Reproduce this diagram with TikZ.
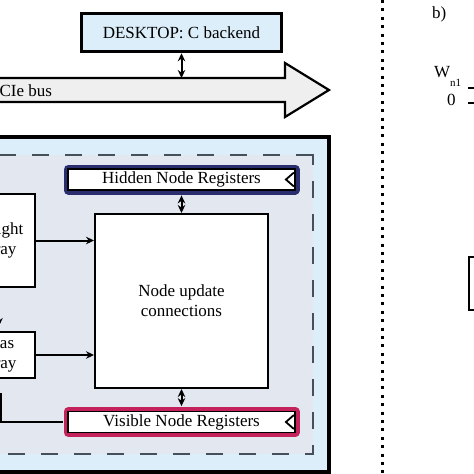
\documentclass[tikz,border=0pt]{standalone}
\usepackage{fontspec}
\setmainfont{Liberation Serif}
\usetikzlibrary{arrows.meta}
\definecolor{deskblue}{HTML}{DCEEFA}
\definecolor{innergray}{HTML}{E3E8F0}
\definecolor{busgray}{HTML}{EFEFEF}
\definecolor{hidnavy}{HTML}{2B2E6E}
\definecolor{viscrimson}{HTML}{C4225A}
\definecolor{dashgray}{HTML}{46505A}

\begin{document}
\begin{tikzpicture}[x=1pt,y=-1pt,>={Stealth[length=8pt,width=7.5pt]},
    font=\fontsize{17}{20}\selectfont,
    box/.style={rectangle,draw,line width=2pt,fill=white,align=center,inner sep=0pt},
    reg/.style={box,line width=1.8pt,minimum width=227pt,minimum height=21pt,
                preaction={draw=#1,line width=9pt,line join=round}},
    link/.style={line width=2pt}]
  \useasboundingbox (0,0) rectangle (474,474);
  \clip (0,0) rectangle (474,474);
  \draw[line width=4.5pt,fill=deskblue] (-20,137) rectangle (329,472);
  \fill[innergray] (-20,155) rectangle (313,454);
  \draw[dashgray,line width=2.2pt,dash pattern=on 17pt off 16pt]
       (306,155) -- (313,155) -- (313,454) -- (-20,454) -- (-20,155) -- cycle;
  \node[box,line width=3.5pt,fill=deskblue,minimum width=200pt,minimum height=38pt] (desk) at (181.5,32.5) {DESKTOP: C backend};
  \draw[line width=2.2pt,fill=busgray,line join=miter]
       (-10,78) -- (285,78) -- (285,63) -- (329,90) -- (285,117) -- (285,102) -- (-10,102) -- cycle;
  \node[anchor=west,inner sep=0pt] (buslbl) at (-10,91) {PCIe bus};
  \coordinate (bustop) at (181.5,78);
  \draw[link,<->] (desk) -- (bustop);
  \node[reg=hidnavy] (hid) at (181.5,179.5) {Hidden Node Registers};
  \node[box,minimum width=173pt,minimum height=174pt] (upd) at (181.5,301) {Node update\\connections};
  \node[reg=viscrimson] (vis) at (181.5,422) {Visible Node Registers};
  \node[box,minimum width=72pt,minimum height=93pt] (wgt) at (-1,240.5) {Weight\\array};
  \node[box,minimum width=72pt,minimum height=46pt] (bias) at (-1,355) {Bias\\array};
  \foreach \reg in {hid,vis}
    \draw[line width=1.8pt] ([xshift=-2pt,yshift=7pt]\reg.east) -- ([xshift=-10pt]\reg.east) -- ([xshift=-2pt,yshift=-7pt]\reg.east);
  \draw[link,->] (wgt.east) -- (wgt.east -| upd.west);
  \draw[link,->] (bias.east) -- (bias.east -| upd.west);
  \draw[link,<->,shorten <=4.5pt] (hid) -- (upd);
  \draw[link,<->,shorten >=4.5pt] (upd) -- (vis);
  \coordinate (biasin) at (-1,300);
  \draw[link,->,shorten >=5pt] (biasin) -- (biasin |- bias.north);
  \coordinate (visin) at (1.2,393);
  \draw[line width=2.4pt,shorten >=4.5pt] (visin) |- (vis.west);
  \coordinate (septop) at (382,0);
  \coordinate (sepbot) at (382,474);
  \draw[line width=3pt,dash pattern=on 3pt off 5.4pt] (septop) -- (sepbot);
  \node[anchor=west,inner sep=0pt] (plotlbl) at (432,14) {b)};
  \node[anchor=base west,inner sep=0pt] (wlbl) at (434,77) {W\raisebox{-9pt}{\fontsize{11}{11}\selectfont n1}};
  \node[anchor=base west,inner sep=0pt] (zlbl) at (447,105) {0};
  \coordinate (wtick) at (468,88);
  \coordinate (ztick) at (468,103);
  \draw[line width=2pt] (wtick) -- +(10,0) (ztick) -- +(10,0);
  \node[box,minimum width=40pt,minimum height=53pt,anchor=north west] (plotbox) at (468,256) {};
\end{tikzpicture}
\end{document}
